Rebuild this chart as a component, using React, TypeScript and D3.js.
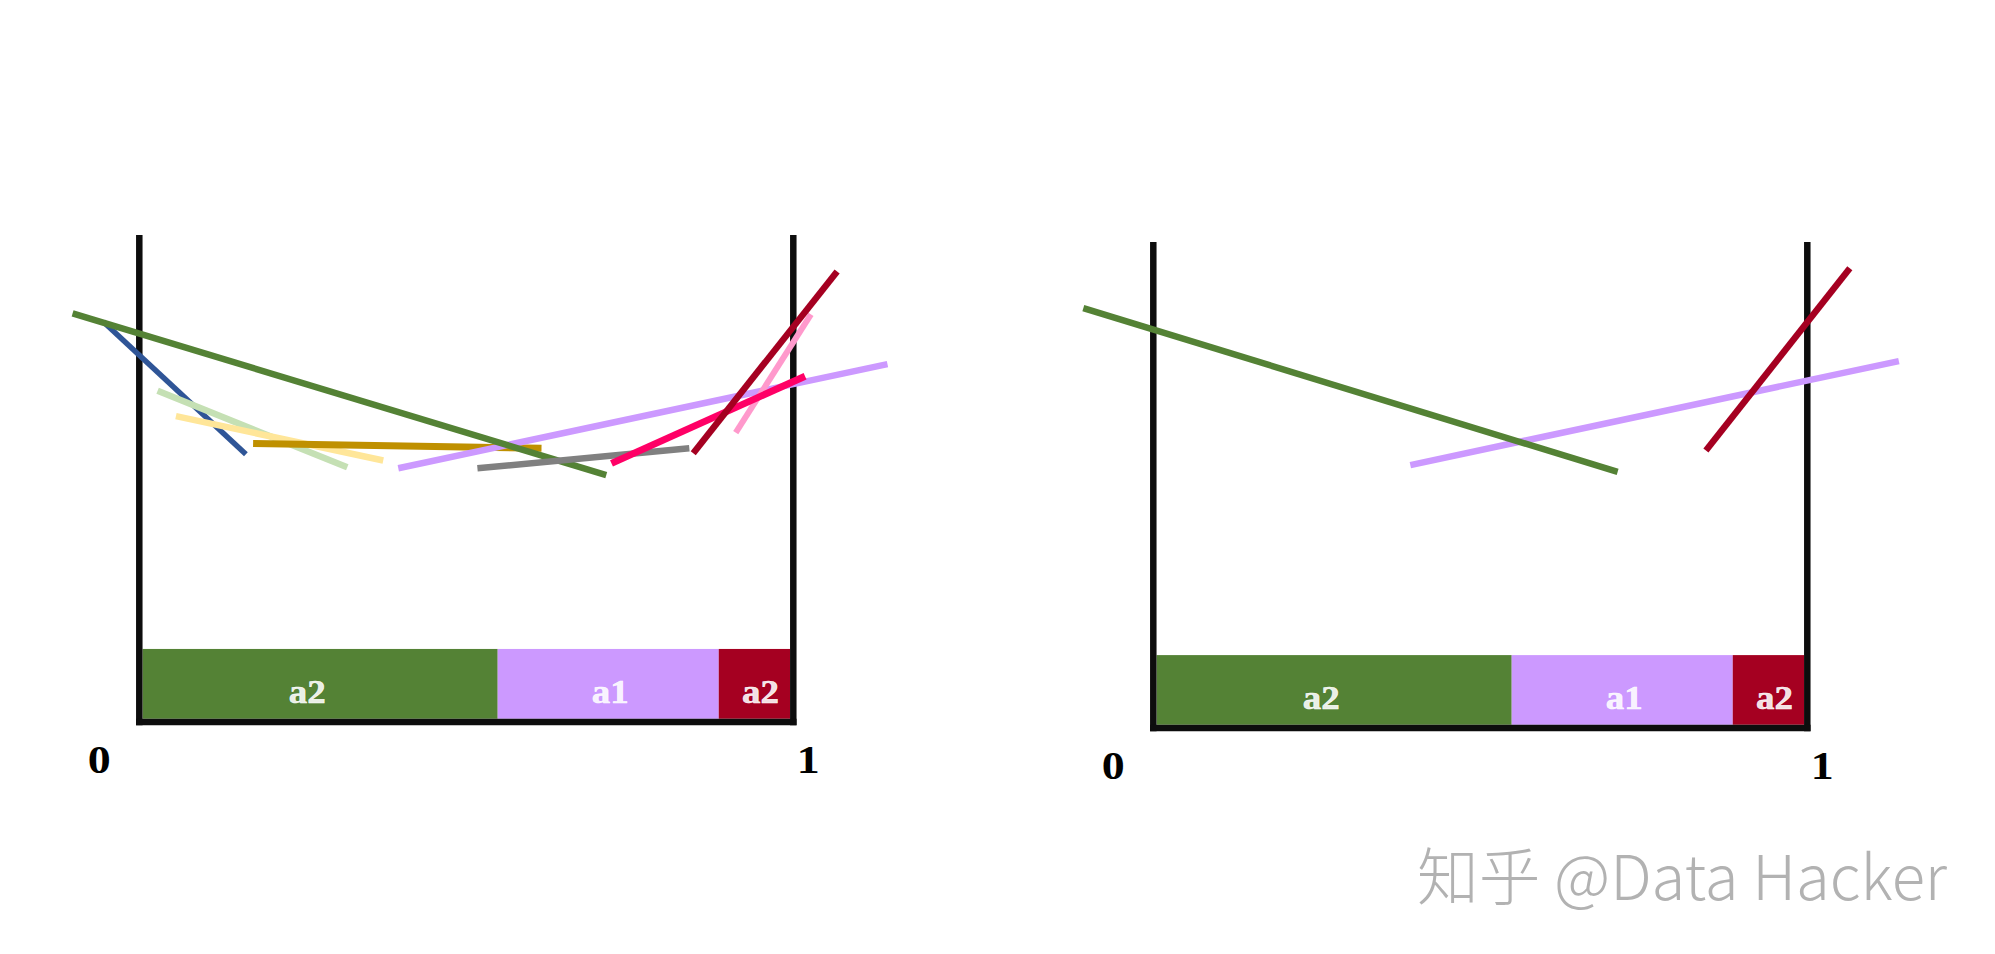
import * as d3 from "d3";

// Segment lines (x in [0,1] panel units, y in panel height units, 0 = bottom axis)
const LEFT_SERIES = ["blue", "lightGreen", "lightYellow", "gold", "lavender", "green", "gray", "lightPink", "hotPink", "darkRed"];
const LEFT_X1 = [-0.055, 0.028, 0.056, 0.174, 0.396, -0.102, 0.517, 0.912, 0.722, 0.847];
const LEFT_Y1 = [0.822, 0.68, 0.628, 0.572, 0.521, 0.839, 0.521, 0.594, 0.531, 0.552];
const LEFT_X2 = [0.163, 0.318, 0.373, 0.615, 1.144, 0.714, 0.841, 1.027, 1.018, 1.067];
const LEFT_Y2 = [0.55, 0.523, 0.537, 0.562, 0.735, 0.507, 0.562, 0.837, 0.71, 0.925];

const RIGHT_SERIES = ["lavender", "green", "darkRed"];
const RIGHT_X1 = [0.393, -0.107, 0.845];
const RIGHT_Y1 = [0.541, 0.864, 0.571];
const RIGHT_X2 = [1.14, 0.71, 1.065];
const RIGHT_Y2 = [0.755, 0.527, 0.946];

const BAR_LABELS = ["a2", "a1", "a2"];
const BAR_SERIES = ["green", "lavender", "darkRed"];
const BAR_BREAKS = [0, 0.548, 0.886, 1];
const BAR_HEIGHT = 0.15;

const TICK_VALUES = [0, 1];
const TICK_LABELS = ["0", "1"];

const COLORS: Record<string, string> = {
  blue: "#2f5597",
  lightGreen: "#c5e0b4",
  lightYellow: "#ffe699",
  gold: "#bf9000",
  lavender: "#cc99ff",
  green: "#548235",
  gray: "#808080",
  lightPink: "#ff99cc",
  hotPink: "#ff0066",
  darkRed: "#a50021",
};

const WIDTHS: Record<string, number> = {
  blue: 5.5,
  lightGreen: 6.5,
  lightYellow: 6.5,
  gold: 7,
  lavender: 6.5,
  green: 6.5,
  gray: 6.5,
  lightPink: 6,
  hotPink: 7,
  darkRed: 6.5,
};

// nudges of the bar labels off the segment centre, px
const LABEL_SHIFT = [-13, 2, 6];
const SERIF = "'Liberation Serif', 'Times New Roman', serif";

type Seg = { key: string; x1: number; y1: number; x2: number; y2: number };

function Panel({
  left,
  right,
  bottom,
  top,
  series,
  x1s,
  y1s,
  x2s,
  y2s,
}: {
  left: number;
  right: number;
  bottom: number;
  top: number;
  series: string[];
  x1s: number[];
  y1s: number[];
  x2s: number[];
  y2s: number[];
}) {
  const x = d3.scaleLinear().domain([0, 1]).range([left, right]);
  const y = d3.scaleLinear().domain([0, 1]).range([bottom, top]);
  const axisW = 6.5;
  const half = axisW / 2;

  const segs: Seg[] = series.map((k, i) => ({ key: k, x1: x1s[i], y1: y1s[i], x2: x2s[i], y2: y2s[i] }));
  const line = d3
    .line<[number, number]>()
    .x((d) => x(d[0]))
    .y((d) => y(d[1]));

  return (
    <g>
      {/* bars */}
      {BAR_LABELS.map((lab, i) => {
        const xa = x(BAR_BREAKS[i]) + (i === 0 ? half : 0);
        const xb = x(BAR_BREAKS[i + 1]) - (i === BAR_LABELS.length - 1 ? half : 0);
        const yt = y(BAR_HEIGHT);
        const yb = y(0) - half;
        const tx = (xa + xb) / 2 + LABEL_SHIFT[i];
        const ty = (yt + yb) / 2 + 19;
        return (
          <g key={i}>
            <rect x={xa} y={yt} width={xb - xa} height={yb - yt} fill={COLORS[BAR_SERIES[i]]} />
            <text
              transform={`translate(${tx},${ty}) scale(1.12,1)`}
              textAnchor="middle"
              fontFamily={SERIF}
              fontWeight="bold"
              fontSize={33}
              fill="#ffffff"
              fillOpacity={0.9}
              stroke="#ffffff"
              strokeOpacity={0.9}
              strokeWidth={0.6}
            >
              {lab}
            </text>
          </g>
        );
      })}
      {/* axes: two walls and floor */}
      <line x1={x(0)} x2={x(0)} y1={top} y2={bottom + half} stroke="#0d0d0d" strokeWidth={axisW} />
      <line x1={x(1)} x2={x(1)} y1={top} y2={bottom + half} stroke="#0d0d0d" strokeWidth={axisW} />
      <line x1={x(0) - half} x2={x(1) + half} y1={bottom} y2={bottom} stroke="#0d0d0d" strokeWidth={axisW} />
      {/* segments */}
      {segs.map((s, i) => (
        <path
          key={i}
          d={line([
            [s.x1, s.y1],
            [s.x2, s.y2],
          ]) ?? ""}
          fill="none"
          stroke={COLORS[s.key]}
          strokeWidth={WIDTHS[s.key]}
          strokeLinecap="butt"
        />
      ))}
      {/* tick labels */}
      {TICK_VALUES.map((v, i) => (
        <text
          key={i}
          transform={`translate(${x(v) + (v === 0 ? -40 : 15)},${y(0) + 51}) scale(1.12,1)`}
          textAnchor="middle"
          fontFamily={SERIF}
          fontWeight="bold"
          fontSize={41}
          fill="#000"
        >
          {TICK_LABELS[i]}
        </text>
      ))}
    </g>
  );
}

export default function App() {
  return (
    <div style={{ position: "absolute", left: 0, top: 0 }}>
      <svg width={1995} height={954} style={{ display: "block", background: "#fff" }}>
        <rect width={1995} height={954} fill="#fff" />
        <Panel
          left={139.3}
          right={793.3}
          bottom={722}
          top={235}
          series={LEFT_SERIES}
          x1s={LEFT_X1}
          y1s={LEFT_Y1}
          x2s={LEFT_X2}
          y2s={LEFT_Y2}
        />
        <Panel
          left={1153.3}
          right={1807.3}
          bottom={728}
          top={242}
          series={RIGHT_SERIES}
          x1s={RIGHT_X1}
          y1s={RIGHT_Y1}
          x2s={RIGHT_X2}
          y2s={RIGHT_Y2}
        />
        <text
          x={1417}
          y={900}
          fontFamily="'Noto Sans CJK SC', 'Noto Sans', sans-serif"
          fontSize={62}
          fontWeight={300}
          fill="#b2b2b2"
          textLength={530}
          lengthAdjust="spacingAndGlyphs"
        >
          知乎 @Data Hacker
        </text>
      </svg>
    </div>
  );
}
